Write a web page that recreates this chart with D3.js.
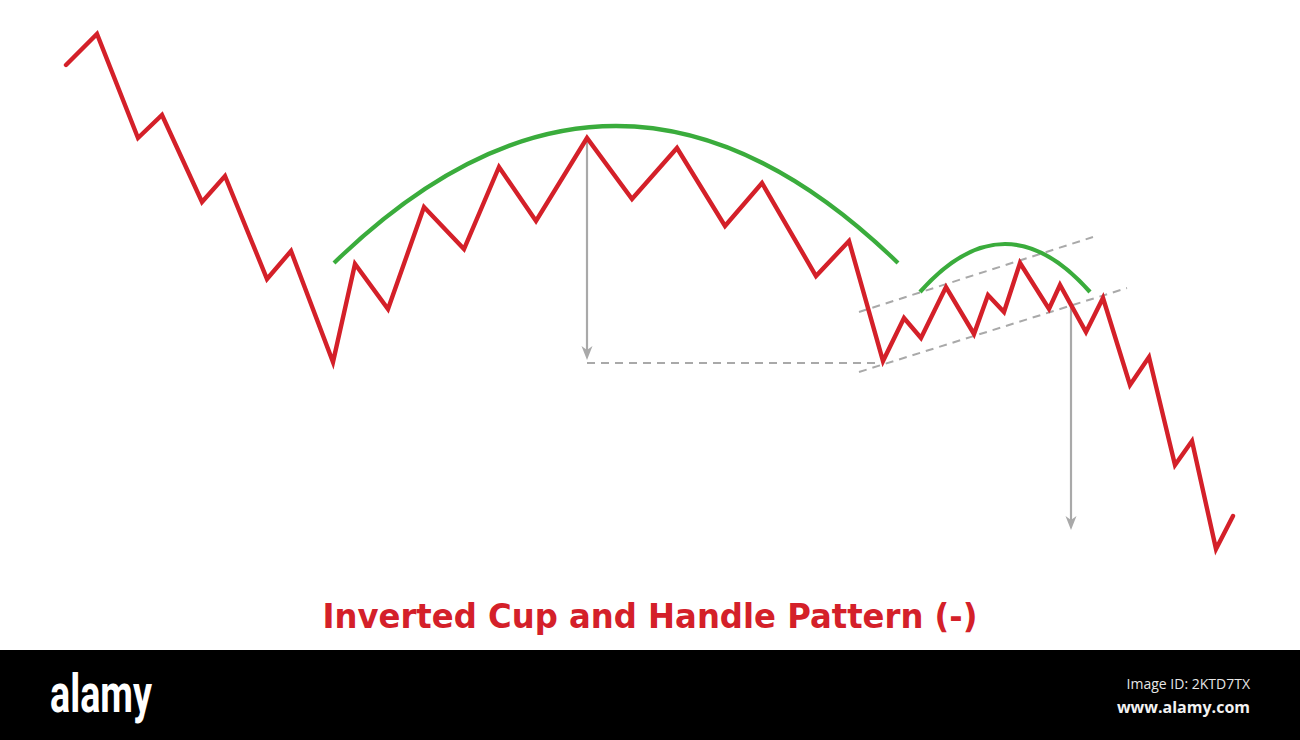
<!DOCTYPE html>
<html>
<head>
<meta charset="utf-8">
<script src="https://cdn.jsdelivr.net/npm/d3@7/dist/d3.min.js"></script>
<style>
html,body{margin:0;padding:0;background:#fff;}
svg{display:block;}
</style>
</head>
<body>
<svg id="chart" width="1300" height="740"></svg>
<script>
// ---- data (time units, price units) ----
const priceTime = [6.6, 9.7, 13.8, 16.2, 20.2, 22.5, 26.7, 29.1, 33.3, 35.5, 38.8, 42.4, 46.4, 49.9, 53.6, 58.7,
  63.2, 67.7, 72.5, 76.2, 81.6, 84.9, 88.3, 90.4, 92.1, 94.6, 97.4, 98.8, 100.4, 102.0, 104.9, 106.0, 108.6, 110.3,
  113.0, 114.9, 117.5, 119.2, 121.6, 123.3];
const priceValue = [107, 113.2, 92.4, 97, 79.6, 84.8, 64.2, 69.8, 47.6, 67.2, 58.2, 78.6, 70.2, 86.6, 75.8, 92.4,
  80.2, 90.4, 74.8, 83.4, 64.8, 71.8, 47.8, 56.4, 52.4, 62.6, 53.2, 61, 57.6, 67.4, 58.2, 63, 53.6, 60.4,
  43, 48.6, 27, 31.8, 10.2, 16.8];

// cup and handle arcs: [start, apex, end] as [time, price]
const cupArc = [[33.4, 67.4], [61.6, 94.8], [89.8, 67.4]];
const handleArc = [[92.0, 61.6], [100.5, 71.2], [109.0, 61.6]];

// handle channel (dashed) and cup-depth guide
const channelUpper = [[85.9, 57.6], [109.3, 72.6]];
const channelLower = [[85.9, 45.6], [112.7, 62.4]];
const cupBaseline = [[58.7, 47.4], [88.0, 47.4]];

// measurement arrows [from, to]
const depthArrow = [[58.7, 92.0], [58.7, 48.0]];
const targetArrow = [[107.1, 59.0], [107.1, 14.0]];

const titleText = "Inverted Cup and Handle Pattern (-)";

// ---- scales ----
const W = 1300, H = 740;
const x = d3.scaleLinear().domain([0, 130]).range([0, 1300]);
const y = d3.scaleLinear().domain([0, 120]).range([600, 0]);

const RED = "#d42029", GREEN = "#3aac3c", GRAY = "#a9a9a9";

const svg = d3.select("#chart");
svg.append("rect").attr("width", W).attr("height", H).attr("fill", "#fff");

const g = svg.append("g");

// dashed guides
const seg = d3.line().x(d => x(d[0])).y(d => y(d[1]));
[channelUpper, channelLower, cupBaseline].forEach(l => {
  g.append("path").attr("d", seg(l)).attr("fill", "none")
    .attr("stroke", GRAY).attr("stroke-width", 2).attr("stroke-dasharray", "8,6");
});

// arrows
function arrow(a) {
  const x0 = x(a[0][0]), y0 = y(a[0][1]), x1 = x(a[1][0]), y1 = y(a[1][1]);
  g.append("line").attr("x1", x0).attr("y1", y0).attr("x2", x1).attr("y2", y1 - 8)
    .attr("stroke", GRAY).attr("stroke-width", 2.2);
  const p = d3.path();
  p.moveTo(x1, y1);
  p.lineTo(x1 - 5.5, y1 - 14);
  p.lineTo(x1, y1 - 10);
  p.lineTo(x1 + 5.5, y1 - 14);
  p.closePath();
  g.append("path").attr("d", p.toString()).attr("fill", GRAY);
}
arrow(depthArrow);
arrow(targetArrow);

// arcs
function arc(a) {
  const [s, m, e] = a;
  const sx = x(s[0]), sy = y(s[1]), ex = x(e[0]), ey = y(e[1]);
  const mx = x(m[0]), my = y(m[1]);
  const cy = 2 * my - (sy + ey) / 2;
  const p = d3.path();
  p.moveTo(sx, sy);
  p.quadraticCurveTo(mx, cy, ex, ey);
  g.append("path").attr("d", p.toString()).attr("fill", "none")
    .attr("stroke", GREEN).attr("stroke-width", 4.2);
}
arc(cupArc);
arc(handleArc);

// price line
const line = d3.line().x((d, i) => x(priceTime[i])).y(d => y(d));
g.append("path").datum(priceValue).attr("d", line).attr("fill", "none")
  .attr("stroke", RED).attr("stroke-width", 4.4).attr("stroke-linejoin", "miter")
  .attr("stroke-linecap", "round");

// title
svg.append("text").attr("x", 650).attr("y", 628).attr("text-anchor", "middle")
  .attr("font-family", "DejaVu Sans, Verdana, sans-serif").attr("font-weight", "bold")
  .attr("font-size", 34).attr("fill", RED)
  .attr("textLength", 655).attr("lengthAdjust", "spacingAndGlyphs")
  .text(titleText);

// bottom band
svg.append("rect").attr("x", 0).attr("y", 650).attr("width", W).attr("height", 90).attr("fill", "#000");
svg.append("text").attr("x", 50).attr("y", 712)
  .attr("font-family", "Liberation Sans Narrow, Roboto, sans-serif").attr("font-weight", "bold")
  .attr("font-size", 54).attr("fill", "#fff")
  .attr("textLength", 102).attr("lengthAdjust", "spacingAndGlyphs")
  .text("alamy");
svg.append("text").attr("x", 1250).attr("y", 689).attr("text-anchor", "end")
  .attr("font-family", "Open Sans, DejaVu Sans, sans-serif")
  .attr("font-size", 14).attr("fill", "#e6e6e6")
  .text("Image ID: 2KTD7TX");
svg.append("text").attr("x", 1250).attr("y", 713).attr("text-anchor", "end")
  .attr("font-family", "Open Sans, DejaVu Sans, sans-serif").attr("font-weight", "bold")
  .attr("font-size", 16).attr("fill", "#f2f2f2")
  .text("www.alamy.com");
</script>
</body>
</html>
